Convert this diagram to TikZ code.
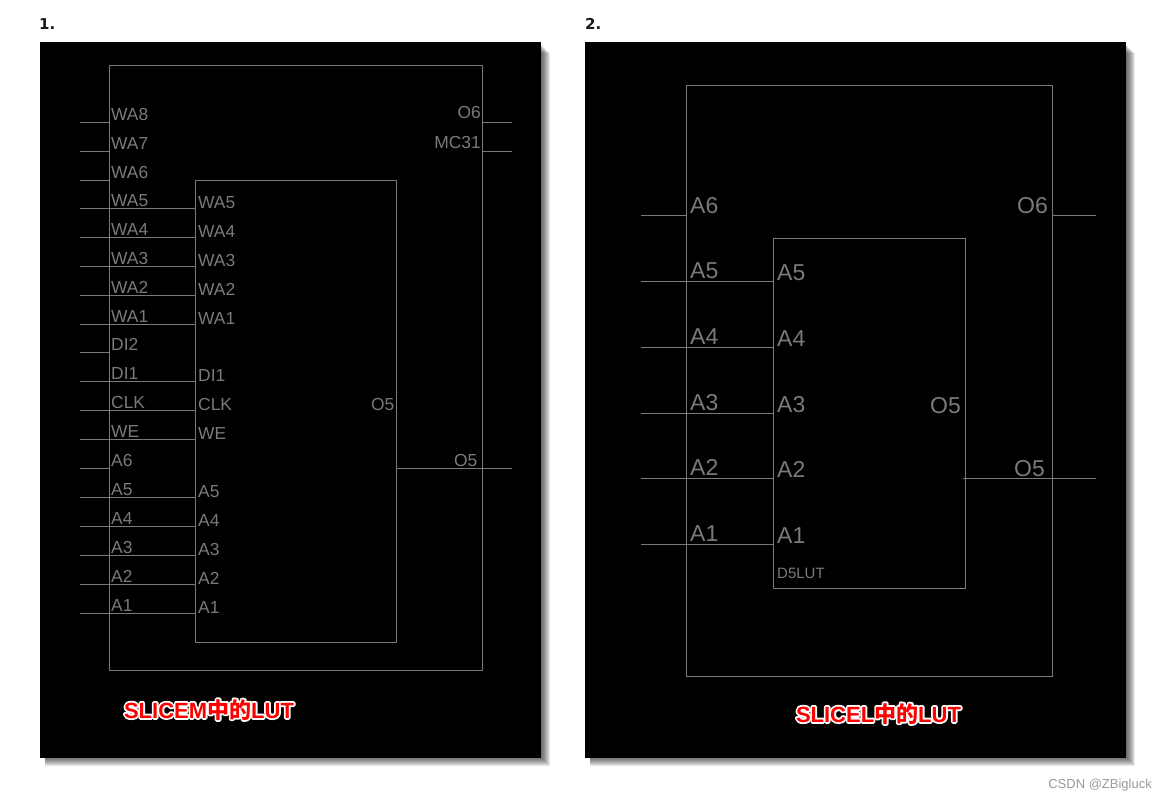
\documentclass[tikz,border=0pt]{standalone}
\usepackage{fontspec}
\setmainfont{Liberation Sans}
\newfontfamily\cjk{Noto Sans CJK SC}
\newfontfamily\headfont{DejaVu Sans}
\definecolor{wiregray}{HTML}{7A7A7A}
\newcommand{\halotext}[1]{\rlap{\special{pdf:code q 1 1 1 RG 3.6 w 1 J 1 j 2 Tr}#1\special{pdf:code Q}}#1}
\tikzset{
  lutblock/.style={draw=wiregray, line width=1.25pt, inner sep=0pt, outer sep=0pt},
  wire/.style={draw=wiregray, line width=1.25pt},
  lutblockb/.style={lutblock, line width=1.6pt},
  wireb/.style={wire, line width=1.6pt},
  pinlabel/.style={text=wiregray, inner sep=0pt, font=\fontsize{17.4}{17}\selectfont, anchor=base west},
  pinright/.style={pinlabel, anchor=base east},
  biglabel/.style={pinlabel, font=\fontsize{23}{23}\selectfont},
  bigright/.style={biglabel, anchor=base east},
  heading/.style={inner sep=0pt, anchor=base west, font=\headfont\bfseries\fontsize{15}{15}\selectfont, text=black!90},
  caption/.style={inner sep=0pt, anchor=base, text=red, font=\bfseries\fontsize{22}{22}\selectfont}
}
\begin{document}
\begin{tikzpicture}[x=1pt,y=-1pt]
  \useasboundingbox (0,0) rectangle (1167,800);
  % panels with their soft shadow
  \foreach \px/\pw in {40/501,585/541} {
    \foreach \d in {9,8,...,1} {
      \fill[black, opacity=0.09] (\px+5,42+2+\d) rectangle (\px+\pw+\d,758+\d-1);
    }
  }
  \fill[black] (40,42) rectangle (541,758);
  \fill[black] (585,42) rectangle (1126,758);
  \node[heading] (headm) at (39,30) {1.};
  \node[heading] (headl) at (585,30) {2.};

  % SLICEM panel
  \node[lutblock, minimum width=373pt, minimum height=605pt] (outerm) at (296,368) {};
  \node[lutblock, minimum width=201pt, minimum height=462pt] (innerm) at (296,411.5) {};
  \foreach \y/\name/\i in {122.5/WA8/1,151.5/WA7/2,180.5/WA6/3,352.5/DI2/4,468.5/A6/5} {
    \coordinate (freem\i) at (80,\y);
    \draw[wire] (freem\i) -- (freem\i -| outerm.west);
    \node[pinlabel] (labm\i) at (111,\y-2.5) {\name};
  }
  \foreach \y/\name/\i in {208.5/WA5/1,237.5/WA4/2,266.5/WA3/3,295.5/WA2/4,324.5/WA1/5,381.5/DI1/6,410.5/CLK/7,439.5/WE/8,497.5/A5/9,526.5/A4/10,555.5/A3/11,584.5/A2/12,613.5/A1/13} {
    \coordinate (pinm\i) at (80,\y);
    \draw[wire] (pinm\i) -- (pinm\i -| innerm.west);
    \node[pinlabel] (outm\i) at (111,\y-2.5) {\name};
    \node[pinlabel] (inm\i) at (198,\y-0.5) {\name};
  }
  \coordinate (o6m) at (512,122.5);
  \coordinate (mc31m) at (512,151.5);
  \coordinate (o5m) at (512,468.5);
  \draw[wire] (o6m) -- (o6m -| outerm.east);
  \draw[wire] (mc31m) -- (mc31m -| outerm.east);
  \draw[wire] (o5m) -- (o5m -| innerm.east);
  \node[pinright] (labo6m) at (481,118) {O6};
  \node[pinright] (labmc) at (481,148) {MC31};
  \node[pinright] (labo5m) at (394.5,410) {O5};
  \node[pinright] (labo5mo) at (477.5,466) {O5};
  \node[caption] (capm) at (209,718) {\halotext{SLICEM\cjk 中的\bfseries\rmfamily LUT}};

  % SLICEL panel
  \node[lutblockb, minimum width=366pt, minimum height=591pt] (outerl) at (869.5,381) {};
  \node[lutblockb, minimum width=192pt, minimum height=350pt] (innerl) at (869.5,413.5) {};
  \coordinate (freel) at (641,215.5);
  \draw[wireb] (freel) -- (freel -| outerl.west);
  \node[biglabel] (laba6) at (690,213) {A6};
  \foreach \y/\name/\i in {281.5/A5/1,347.5/A4/2,413.5/A3/3,478.5/A2/4,544.5/A1/5} {
    \coordinate (pinl\i) at (641,\y);
    \draw[wireb] (pinl\i) -- (pinl\i -| innerl.west);
    \node[biglabel] (outl\i) at (690,\y-3.2) {\name};
    \node[biglabel] (inl\i) at (777,\y-1) {\name};
  }
  \node[pinlabel, font=\fontsize{15}{15}\selectfont] (dlut) at (777,578) {D5LUT};
  \coordinate (o6l) at (1096,215.5);
  \coordinate (o5l) at (1096,478.5);
  \coordinate (o5ls) at (963,478.5);
  \draw[wireb] (o6l) -- (o6l -| outerl.east);
  \draw[wireb] (o5ls) -- (o5l);
  \node[bigright] (labo6l) at (1048,213) {O6};
  \node[bigright] (labo5l) at (961,413) {O5};
  \node[bigright] (labo5lo) at (1045,476) {O5};
  \node[caption] (capl) at (878.5,722) {\halotext{SLICEL\cjk 中的\bfseries\rmfamily LUT}};

  \node[inner sep=0pt, anchor=base east, text=black!40, font=\fontsize{13}{13}\selectfont] (mark) at (1152,788) {CSDN @ZBigluck};
\end{tikzpicture}
\end{document}
